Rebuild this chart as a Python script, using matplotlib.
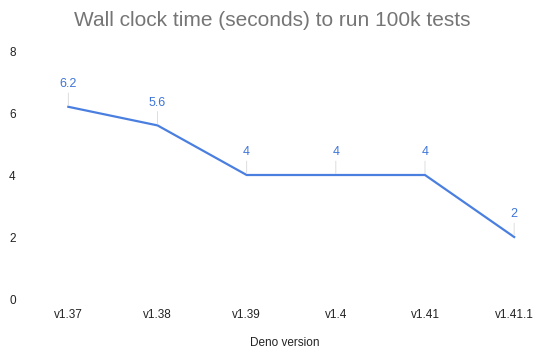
import matplotlib
matplotlib.use("Agg")
import matplotlib.pyplot as plt

# data
versions = ["v1.37", "v1.38", "v1.39", "v1.4", "v1.41", "v1.41.1"]
seconds = [6.2, 5.6, 4, 4, 4, 2]
labels = ["6.2", "5.6", "4", "4", "4", "2"]

plt.rcParams['font.family'] = ['Liberation Sans', 'DejaVu Sans']

fig = plt.figure(figsize=(5.45, 3.57), dpi=100)
ax = fig.add_axes([30/545, 58/357, 510/545, 248/357])

xs = list(range(len(versions)))
ax.plot(xs, seconds, color='#4a7fe0', lw=1.6, solid_joinstyle='miter')

# data labels with small leader lines
for x, y, s in zip(xs, seconds, labels):
    ax.annotate(s, xy=(x, y), xytext=(0, 12), textcoords='offset points',
                ha='center', va='bottom', fontsize=9, color='#3d74d8',
                arrowprops=dict(arrowstyle='-', color='#d8d8d8', lw=0.6,
                                shrinkA=0, shrinkB=1))

ax.set_xlim(-0.43, 5.29)
ax.set_ylim(0, 8)
ax.set_yticks([0, 2, 4, 6, 8])
ax.set_xticks(xs)
ax.set_xticklabels(versions)
for sp in ax.spines.values():
    sp.set_visible(False)
ax.tick_params(length=0, labelsize=8.5, colors='#222222')
ax.tick_params(axis='x', pad=7)
for lab in ax.get_yticklabels():
    lab.set_horizontalalignment('left')
ax.yaxis.set_tick_params(pad=15)

ax.set_xlabel("Deno version", fontsize=8.5, color='#222222', labelpad=12)
fig.text(272/545, 1 - 21/357, "Wall clock time (seconds) to run 100k tests",
         ha='center', va='center', fontsize=15, color='#757575')

fig.savefig("out.png", dpi=100, facecolor='white')
